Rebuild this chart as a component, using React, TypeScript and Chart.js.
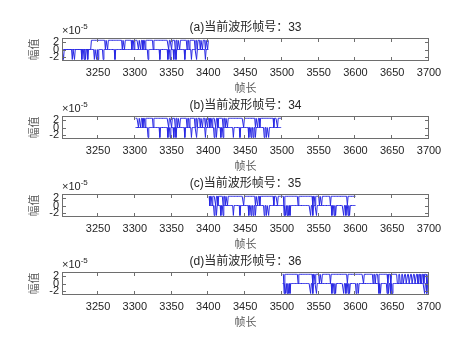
import React, { useEffect, useRef } from 'react';
import { Chart, registerables } from 'chart.js';

Chart.register(...registerables);

// ---- data (amplitudes in units of 1e-5) ----
const panelLetters = ['a', 'b', 'c', 'd'];
const frameNumbers = [33, 34, 35, 36];
const windowStarts = [3201, 3301, 3401, 3501];
const windowEnds = [3400, 3500, 3600, 3700];

const xMin = 3201;
const xMax = 3700;
const xTickValues = [3250, 3300, 3350, 3400, 3450, 3500, 3550, 3600, 3650, 3700];
const yMin = -3;
const yMax = 3;
const yTickValues = [-2, 0, 2];

// upper trace: steady level changes at these frames
const upperLevelFrames = [3201, 3241];
const upperLevelValues = [0, 2.4];
// upper trace drops to the middle level at these frames
const upperDipFrames = [
  3260, 3263, 3283, 3286, 3296, 3299, 3305, 3308, 3311, 3314, 3325, 3346, 3350, 3355, 3358, 3361,
  3371, 3374, 3382, 3385, 3389, 3392, 3396, 3399, 3402, 3405, 3410, 3413, 3420, 3423, 3426, 3448,
  3464, 3467, 3470, 3489, 3494, 3522, 3542, 3545, 3551, 3554, 3566, 3589, 3611, 3624, 3627, 3631,
  3644, 3648, 3657, 3658, 3661, 3662, 3665, 3666, 3669, 3670, 3673, 3674, 3677, 3678, 3681, 3682,
  3685, 3686, 3689, 3690, 3693, 3697, 3698,
];
const upperDipValue = 0;
// upper trace drops to the bottom level at these frames
const upperDeepDipFrames = [3503];
const deepValue = -2.6;

// lower trace: steady middle level with drops to the bottom level
const lowerLevelValue = 0;
const lowerDipFrames = [
  3203, 3215, 3218, 3228, 3231, 3233, 3236, 3245, 3248, 3250, 3257, 3273, 3318, 3334, 3345, 3348,
  3353, 3356, 3368, 3377, 3384, 3396, 3408, 3411, 3417, 3420, 3434, 3443, 3455, 3458, 3461, 3464,
  3476, 3479, 3482, 3505, 3507, 3509, 3511, 3539, 3542, 3547, 3568, 3571, 3573, 3584, 3587, 3590,
  3592, 3601, 3604, 3632, 3634, 3643, 3645, 3648, 3650, 3694, 3697,
];

// ---- styles ----
const fontFamily = "'Liberation Sans', 'Noto Sans CJK SC', Arial, sans-serif";
const textColor = '#262626';
const labelColor = '#5a5a5a';
const axisColor = '#6e6e6e';
const lineColor = 'rgb(40,40,228)';

function upperValue(f: number): number {
  if (upperDeepDipFrames.includes(f)) return deepValue;
  if (upperDipFrames.includes(f)) return upperDipValue;
  let v = upperLevelValues[0];
  for (let i = 0; i < upperLevelFrames.length; i++) {
    if (f >= upperLevelFrames[i]) v = upperLevelValues[i];
  }
  return v;
}

function lowerValue(f: number): number {
  return lowerDipFrames.includes(f) ? deepValue : lowerLevelValue;
}

function windowPoints(start: number, end: number, fn: (f: number) => number) {
  const pts: { x: number; y: number }[] = [];
  for (let f = start; f <= end; f++) pts.push({ x: f, y: fn(f) });
  return pts;
}

const axesFramePlugin = {
  id: 'axesFrame',
  afterDraw(chart: any) {
    const { ctx, chartArea, scales } = chart;
    const l = Math.round(chartArea.left) + 0.5;
    const r = Math.round(chartArea.right) - 0.5;
    const t = Math.round(chartArea.top) + 0.5;
    const b = Math.round(chartArea.bottom) - 0.5;
    const tl = 3.5;
    ctx.save();
    ctx.strokeStyle = axisColor;
    ctx.lineWidth = 1;
    ctx.strokeRect(l, t, r - l, b - t);
    ctx.beginPath();
    for (const v of xTickValues) {
      const px = Math.round(scales.x.getPixelForValue(v)) - 0.5;
      ctx.moveTo(px, b);
      ctx.lineTo(px, b - tl);
      ctx.moveTo(px, t);
      ctx.lineTo(px, t + tl);
    }
    for (const v of yTickValues) {
      const py = Math.round(scales.y.getPixelForValue(v)) + 0.5;
      ctx.moveTo(l, py);
      ctx.lineTo(l + tl, py);
      ctx.moveTo(r, py);
      ctx.lineTo(r - tl, py);
    }
    ctx.stroke();
    // exponent label
    ctx.fillStyle = textColor;
    ctx.textBaseline = 'alphabetic';
    ctx.textAlign = 'left';
    ctx.font = `11px ${fontFamily}`;
    const base = '×10';
    ctx.fillText(base, chartArea.left, chartArea.top - 4);
    const w = ctx.measureText(base).width;
    ctx.font = `8px ${fontFamily}`;
    ctx.fillText('-5', chartArea.left + w, chartArea.top - 9);
    ctx.restore();
  },
};

function Panel({ index }: { index: number }) {
  const ref = useRef<HTMLCanvasElement | null>(null);
  useEffect(() => {
    if (!ref.current) return;
    const start = windowStarts[index];
    const end = windowEnds[index];
    const chart = new Chart(ref.current, {
      type: 'line',
      data: {
        datasets: [
          {
            data: windowPoints(start, end, upperValue),
            borderColor: lineColor,
            borderWidth: 1,
            pointRadius: 0,
            tension: 0,
            fill: false,
          },
          {
            data: windowPoints(start, end, lowerValue),
            borderColor: lineColor,
            borderWidth: 1,
            pointRadius: 0,
            tension: 0,
            fill: false,
          },
        ],
      },
      options: {
        responsive: false,
        animation: false,
        events: [],
        layout: { padding: { top: 20.8, right: 45, bottom: 0, left: 0 } },
        plugins: {
          legend: { display: false },
          tooltip: { enabled: false },
          title: {
            display: true,
            text: `(${panelLetters[index]})当前波形帧号：${frameNumbers[index]}`,
            fullSize: false,
            color: textColor,
            font: { family: fontFamily, size: 12, weight: 'normal' },
            padding: { top: 0, bottom: 2.8 },
          },
        },
        scales: {
          x: {
            type: 'linear',
            min: xMin,
            max: xMax,
            afterBuildTicks: (s: any) => {
              s.ticks = xTickValues.map((v) => ({ value: v }));
            },
            afterFit: (s: any) => {
              s.height = 39;
            },
            grid: { display: false, drawTicks: false },
            border: { display: false },
            ticks: {
              autoSkip: false,
              maxRotation: 0,
              padding: 5.4,
              color: textColor,
              font: { family: fontFamily, size: 11 },
              callback: (v: any) => String(v),
            },
            title: {
              display: true,
              text: '帧长',
              color: labelColor,
              font: { family: fontFamily, size: 11 },
              padding: { top: 0, bottom: 4.4 },
            },
          },
          y: {
            type: 'linear',
            min: yMin,
            max: yMax,
            afterBuildTicks: (s: any) => {
              s.ticks = yTickValues.map((v) => ({ value: v }));
            },
            afterFit: (s: any) => {
              s.width = 62;
            },
            grid: { display: false, drawTicks: false },
            border: { display: false },
            ticks: {
              autoSkip: false,
              padding: 3,
              color: textColor,
              font: { family: fontFamily, size: 11 },
              callback: (v: any) => String(v),
            },
            title: {
              display: true,
              text: '幅值',
              color: labelColor,
              font: { family: fontFamily, size: 11 },
              padding: { top: 28.4, bottom: 0 },
            },
          },
        },
      },
      plugins: [axesFramePlugin],
    } as any);
    return () => chart.destroy();
  }, [index]);
  return (
    <canvas
      ref={ref}
      width={474}
      height={100}
      style={{ position: 'absolute', left: 0, top: index * 78, width: 474, height: 100, display: 'block' }}
    />
  );
}

export default function App() {
  return (
    <div style={{ position: 'absolute', left: 0, top: 0, width: 474, height: 355, background: '#fff' }}>
      {panelLetters.map((_, i) => (
        <Panel key={i} index={i} />
      ))}
    </div>
  );
}
